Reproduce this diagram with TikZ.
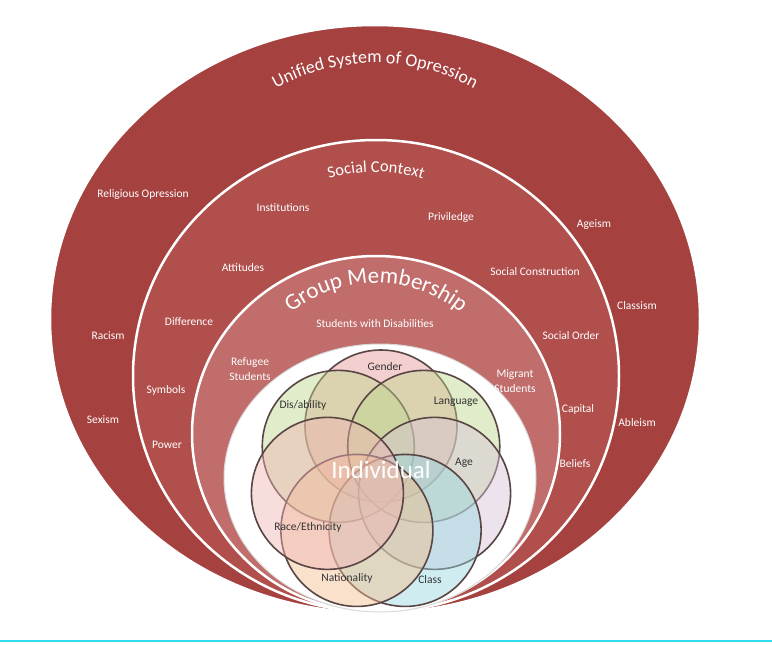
\documentclass[tikz,border=0pt]{standalone}
\usepackage{fontspec}
\setmainfont{Carlito}
\usetikzlibrary{decorations.text}
\definecolor{outerc}{HTML}{A5413E}
\definecolor{socc}{HTML}{B14F4C}
\definecolor{grpc}{HTML}{C06D6C}
\definecolor{edgec}{HTML}{5A4545}
\tikzset{
  ring/.style={draw=white,line width=2.5pt},
  lab/.style={text=white,font=\fontsize{11.5}{13}\selectfont,align=center},
  ilab/.style={text=black!80,font=\fontsize{11.5}{13}\selectfont},
  petal/.style={draw=edgec,line width=1.6pt,fill opacity=0.45},
  curv/.style={decorate,decoration={text along path,text align=center,text color=white}}
}
\begin{document}
\begin{tikzpicture}[x=1pt,y=-1pt]
\useasboundingbox (0,0) rectangle (772,645);
\fill[white] (0,0) rectangle (772,645);
\draw[line width=2pt,color={rgb,255:red,51;green,221;blue,238}] (0,641) -- (772,641);
% rings
\path[ring,fill=outerc] (375,319) ellipse[x radius=325,y radius=294];
\path[ring,fill=socc] (376,376) ellipse[x radius=243,y radius=236];
\path[ring,fill=grpc] (376,434) ellipse[x radius=184,y radius=178];
\path[draw=black!15,line width=1pt,fill=white] (380,478) ellipse[x radius=156,y radius=134];
% curved titles
\path[curv,decoration={text={|\fontsize{18}{18}\selectfont|Unified System of Opression}}]
  (375,268) ++(200:205) arc[start angle=200,end angle=340,radius=205];
\path[curv,decoration={text={|\fontsize{16.5}{16.5}\selectfont|Social Context}}]
  (376,332) ++(225:160) arc[start angle=225,end angle=315,radius=160];
\path[curv,decoration={text={|\fontsize{23}{23}\selectfont|Group Membership}}]
  (376,418) ++(200:135) arc[start angle=200,end angle=340,radius=135];
% outer labels
\node[lab] (ro) at (143,194) {Religious Opression};
\node[lab] (ra) at (108,336) {Racism};
\node[lab] (se) at (103,420) {Sexism};
\node[lab] (ag) at (594,225) {Ageism};
\node[lab] (cl) at (637,306) {Classism};
\node[lab] (ab) at (637,423) {Ableism};
% social labels
\node[lab] (in) at (283,208) {Institutions};
\node[lab] (pr) at (451,217) {Priviledge};
\node[lab] (at) at (243,268) {Attitudes};
\node[lab] (sc) at (535,272) {Social Construction};
\node[lab] (di) at (189,322) {Difference};
\node[lab] (so) at (571,336) {Social Order};
\node[lab] (sy) at (166,390) {Symbols};
\node[lab] (ca) at (578,409) {Capital};
\node[lab] (po) at (167,445) {Power};
\node[lab] (be) at (575,464) {Beliefs};
% group labels
\node[lab] (swd) at (375,324) {Students with Disabilities};
\node[lab,font=\fontsize{11.5}{15}\selectfont] (rs) at (250,369) {Refugee\\Students};
\node[lab,font=\fontsize{11.5}{15}\selectfont] (ms) at (515,381) {Migrant\\Students};
% petals
\def\R{76}
\path[petal,fill={rgb,255:red,232;green,150;blue,150}] (381,481) ++(270:55) circle[radius=\R];
\path[petal,fill={rgb,255:red,190;green,215;blue,140}] (381,481) ++(219:55) circle[radius=\R];
\path[petal,fill={rgb,255:red,190;green,215;blue,140}] (381,481) ++(321:55) circle[radius=\R];
\path[petal,fill={rgb,255:red,215;green,195;blue,215}] (381,481) ++(13:55) circle[radius=\R];
\path[petal,fill={rgb,255:red,150;green,215;blue,225}] (381,481) ++(64:55) circle[radius=\R];
\path[petal,fill={rgb,255:red,245;green,190;blue,140}] (381,481) ++(116:55) circle[radius=\R];
\path[petal,fill={rgb,255:red,240;green,180;blue,180}] (381,481) ++(167:55) circle[radius=\R];
\node[ilab] (ge) at (385,367) {Gender};
\node[ilab] (da) at (303,405) {Dis/ability};
\node[ilab] (la) at (456,402) {Language};
\node[ilab] (age) at (464,463) {Age};
\node[text=white,font=\fontsize{25}{25}\selectfont] (ind) at (381,470) {Individual};
\node[ilab] (re) at (308,527) {Race/Ethnicity};
\node[ilab] (na) at (347,578) {Nationality};
\node[ilab] (cs) at (430,580) {Class};
\end{tikzpicture}
\end{document}
